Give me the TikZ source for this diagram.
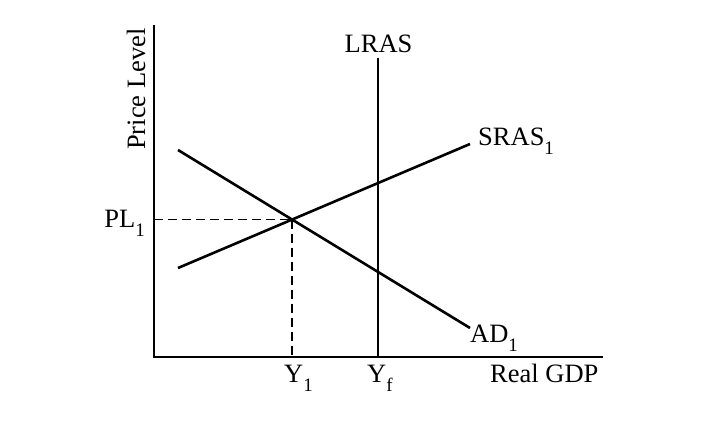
\documentclass[tikz,border=0pt]{standalone}
\usepackage{fontspec}
\setmainfont{Liberation Serif}
\usetikzlibrary{intersections}
\newcommand\lsub[1]{\raisebox{-9pt}{\fontsize{19}{19}\selectfont #1}}
\tikzset{
  axisline/.style={line width=2.6pt},
  curve/.style={line width=2.6pt},
  lrasline/.style={line width=1.9pt},
  guide/.style={line width=1.3pt, dash pattern=on 9pt off 5pt},
  lbl/.style={inner sep=0pt, font=\fontsize{26.5}{28}\selectfont}
}
\begin{document}
\begin{tikzpicture}[x=1pt,y=1pt]
\useasboundingbox (0,0) rectangle (711,423);
% axes
\coordinate (ytop) at (154,398);
\coordinate (O) at (154,66);
\coordinate (xend) at (603,66);
\draw[axisline] (ytop) -- (O) -- (xend);
% curves
\coordinate (ad0) at (178,273);
\coordinate (ad1) at (470,95);
\coordinate (sr0) at (178,155);
\coordinate (sr1) at (470,279);
\draw[curve, name path=AD] (ad0) -- (ad1);
\draw[curve, name path=SRAS] (sr0) -- (sr1);
\path[name intersections={of=AD and SRAS, by=E}];
% LRAS
\coordinate (lr0) at (378,365);
\coordinate (lr1) at (378,66);
\draw[lrasline] (lr0) -- (lr1);
% guides
\coordinate (Ey) at (O |- E);
\coordinate (Ex) at (E |- O);
\draw[guide] (Ey) -- (E);
\draw[guide] (E) -- (Ex);
% labels
\node[lbl, anchor=base] (lras) at (378.5,370) {LRAS};
\node[lbl, anchor=base west] (sras) at (478,277) {SRAS\lsub{1}};
\node[lbl, anchor=base west] (ad) at (470,81) {AD\lsub{1}};
\node[lbl, anchor=base east] (pl) at (145,195) {PL\lsub{1}};
\node[lbl, anchor=base west] (y1) at (284,41) {Y\lsub{1}};
\node[lbl, anchor=base west] (yf) at (367,41) {Y\lsub{f}};
\node[lbl, anchor=base west] (gdp) at (490,41) {Real GDP};
\node[lbl, anchor=base west, rotate=90] (pricelvl) at (145,273) {Price Level};
\end{tikzpicture}
\end{document}
